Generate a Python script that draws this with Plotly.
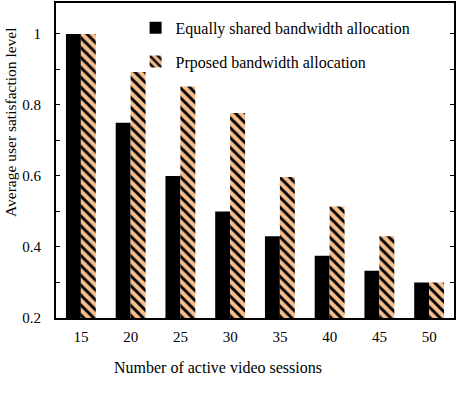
import plotly.graph_objects as go

categories = ["15", "20", "25", "30", "35", "40", "45", "50"]
equal_share = [1.0, 0.75, 0.60, 0.50, 0.43, 0.375, 0.333, 0.30]
proposed = [1.0, 0.893, 0.852, 0.777, 0.597, 0.514, 0.43, 0.30]

FONT = "Liberation Serif, Times New Roman, serif"
PEACH = "#F8BF8E"

fig = go.Figure()
fig.add_trace(go.Bar(
    x=categories, y=equal_share, name="Equally shared bandwidth allocation",
    marker=dict(color="black", line=dict(width=0)),
    legendgroup="a",
))
fig.add_trace(go.Bar(
    x=categories, y=proposed, name="Prposed bandwidth allocation",
    marker=dict(color=PEACH, line=dict(width=0),
                pattern=dict(shape="\\", fgcolor="black", bgcolor=PEACH,
                             size=7, solidity=0.42, fillmode="replace")),
    legendgroup="b",
))

fig.update_layout(
    width=474, height=397,
    margin=dict(l=56, r=20, t=3, b=79, autoexpand=False),
    paper_bgcolor="white", plot_bgcolor="white",
    barmode="group", bargap=0.4, bargroupgap=0,
    font=dict(family=FONT, size=15, color="black"),
    legend=dict(x=0.2, y=0.975, xanchor="left", yanchor="top",
                bgcolor="rgba(0,0,0,0)", tracegroupgap=10,
                font=dict(family=FONT, size=16),
                itemwidth=30),
    showlegend=True,
    annotations=[
        dict(text="Number of active video sessions", xref="paper", yref="paper",
             x=0, y=0, xshift=218 - 56, yshift=-(367 - 318),
             xanchor="center", yanchor="middle", showarrow=False,
             font=dict(family=FONT, size=16)),
        dict(text="Average user satisfaction level", xref="paper", yref="paper",
             x=0, y=0, xshift=10 - 56, yshift=318 - 122, textangle=-90,
             xanchor="center", yanchor="middle", showarrow=False,
             font=dict(family=FONT, size=15.5)),
    ],
)
fig.update_xaxes(
    type="category", range=[-0.5, 7.5], automargin=False,
    showline=True, linecolor="black", linewidth=2, mirror="all",
    ticks="", tickfont=dict(size=15, family=FONT), ticklabelstandoff=4,
    showgrid=False,
)
fig.update_yaxes(
    range=[0.2, 1.087], automargin=False,
    tickvals=[0.2, 0.4, 0.6, 0.8, 1.0], ticktext=["0.2", "0.4", "0.6", "0.8", "1"],
    showline=True, linecolor="black", linewidth=2, mirror="all",
    ticks="inside", ticklen=4, tickcolor="black", tickwidth=1,
    minor=dict(tickvals=[0.3, 0.5, 0.7, 0.9], ticks="inside", ticklen=4, tickcolor="black", tickwidth=1, showgrid=False),
    tickfont=dict(size=15, family=FONT), ticklabelstandoff=10,
    showgrid=False, zeroline=False,
)

fig.write_html(
    "out.html", config={"displayModeBar": False},
    post_script=(
        "document.body.style.margin='0';"
        "document.body.style.overflow='hidden';"
        "document.documentElement.style.overflow='hidden';"
        "window.scrollTo(0,0);"
    ),
)
